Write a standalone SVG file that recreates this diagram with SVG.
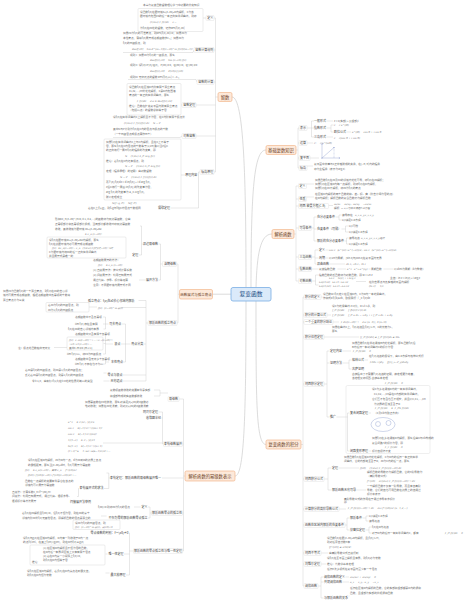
<svg xmlns="http://www.w3.org/2000/svg" width="474" height="602" viewBox="0 0 474 602">
<style>
text{font-family:"Noto Sans CJK SC","Noto Sans",sans-serif}
.b{font-size:2.7px;fill:#6a6a6a}
.l{font-size:3px;fill:#454545}
.f{font-family:"DejaVu Serif","Noto Sans CJK SC",serif;font-size:2.5px;fill:#666;font-style:italic}
.e{text-anchor:end}
.m{font-size:4.3px;fill:#6b3d1e;text-anchor:middle}
.mr{fill:#fde9da;stroke:#f0ad7e;stroke-width:0.6}
.c{font-size:5.8px;fill:#1d4f86;text-anchor:middle}
.cr{fill:#dbeafa;stroke:#79ade3;stroke-width:0.8}
.k{fill:none;stroke:#c6c6c6;stroke-width:0.4}
.km{fill:none;stroke:#cdcdcd;stroke-width:0.7}
.bx{fill:#fff;stroke:#d0d0d0;stroke-width:0.4}
.bn{fill:none;stroke:#d6d6d6;stroke-width:0.4}
.lb{fill:#fff;stroke:#d6d6d6;stroke-width:0.35}
.dg{fill:none;stroke:#8899cc;stroke-width:0.4}
</style>
<rect width="474" height="602" fill="#fff"/>
<g id="connectors">
<path class="km" d="M246,287.5 C246,180 244,97 232,97"/>
<path class="km" d="M251,287.5 C251,190 254,150 266,150"/>
<path class="km" d="M256,287.5 C257,255 260,234 272,234"/>
<path class="km" d="M231,294.2 L212.5,294.2"/>
<path class="km" d="M256,301 C256,400 256,444.5 266,444.5"/>
<path class="km" d="M246,301 C246,420 244,476 235,476"/>
<path class="k" d="M215.5,18 V172 M214,18 H215.5 M214,50 H215.5 M214,82 H215.5 M196,105 H215.5 M196,136 H215.5 M214,172 H215.5 M215.5,97 H218 M203,18 H206 M123,52.5 H193 L194,50 M128,79.5 H196 L197,82 M181,105 H182 M113,137.5 H180 L182,136 M181,175 H185 M197.5,175 H198.5 M198.5,172 V208 H170.5 M198.5,172 H200"/>
<path class="k" d="M178,264 V323 M176.5,264 H178 M176.5,323 H178 M178,294.2 H179.5 M162.5,264 H160.5 M160.5,244 V280 M158.5,244 H160.5 M158.5,280 H160.5 M141.5,226 V255 M140,226 H141.5 M141.5,244 H143 M138.5,255 H141.5 M139,280 H145.5 M146,300.5 V381 M146,323 H148 M138.5,300.5 H146 M121,307.5 H146 M143.5,344 H146 M122.5,375 H146 M122.5,381 H146 M125.5,324 V362 M121.5,324 H125.5 M121,344 H125.5 M123,362 H125.5 M125.5,344 H130.5 M105.5,317 V329 M103,317 H105.5 M103,324 H105.5 M103.5,329 H105.5 M105.5,324 H108.5 M105.5,334 V354 M103,334 H105.5 M103.5,343.5 H105.5 M103,354 H105.5 M105.5,344 H113 M105.5,359 V364 M103,359 H105.5 M103,364 H105.5 M105.5,362 H109 M103.5,373 H106.5 M103.5,381 H109.5 M54,347.5 H67 M89,307 H97"/>
<path class="k" d="M183.5,399 V551 M183.5,476 H185 M179,399 H183.5 M182.5,444 H183.5 M162,478 H183.5 M182.5,513 H183.5 M182.5,551 H183.5 M154,390 H160 V396 H154 M160,393 H168 M162.5,412 V444 M158.5,412 H162.5 M161.5,418 H162.5 M103,443 H162.5 M162.5,444 H163.5 M108.8,473 V488.5 H104 M108.8,478 H110 M106.5,473 H108.8 M77,496.5 H78.5 V488.5 H79 M150,507 V518 M150,513 H151.5 M148,507 H150 M148,518 H150 M134,507 H140.5 M101,516 H106.5 M129.5,533 V575 M129.5,551 H133.5 M129,533 H129.5 M124,554 H129.5 M126,575 H129.5 M105.5,554 H107.5 M105.5,573 H109.5"/>
<path class="k" d="M296,150 H298 M298,128 V168 M298,128 H299 M298,143 H299 M298,158 H299 M298,168 H299 M307,128 H311.5 M311.5,121 V137 M311.5,121 H314 M311.5,128 H314 M311.5,137 H314 M326.5,121 H333 M326.5,128 H331 M331,125 V132 M331,125 H333.5 M331,132 H333.5 M346.5,132 H351 M326.5,137 H333 M307,143 H313 M310,158 H319 M307,166 H313"/>
<path class="k" d="M294,234 H296 M296,186 V281 M296,186 H298.5 M296,199 H298.5 M296,206 H298.5 M296,228 H298.5 M296,257 H298.5 M296,269 H298.5 M296,281 H298.5 M306.5,184 H314 M306.5,197 H314 M328.5,205.5 H333 M311.5,228 H314 M314,217 V241 M314,217 H316.5 M314,229 H316.5 M314,241 H316.5 M335.5,217 H339 M339,215 V220 M339,215 H341.5 M339,220 H341.5 M341.5,229 H345.5 M345.5,226 V232 M345.5,226 H348.5 M345.5,232 H348.5 M344.5,241 H346.5 M346.5,238 V244 M346.5,238 H348.5 M346.5,244 H348.5 M311.5,257 H315 M315,250 V264 M315,250 H318.5 M315,258 H318.5 M315,264 H316.5 M325.5,250 H328.5 M325.5,258 H328.5 M329.5,264 H345 M311.5,269 H318.5 M337.5,269 H346 M368.5,269 H370.5 M383.5,269 H393.5 M311.5,281 H315.5 M315.5,275 V285 M315.5,275 H318.5 M315.5,285 H318.5 M356,281.5 H366"/>
<path class="k" d="M301,444.5 H303 M303,297 V586 M303,297 H304 M303,315 H304 M303,322 H304 M303,337 H304 M303,384 H304 M303,479 H304 M303,509 H304 M303,525 H304 M303,553 H304 M303,564 H304 M303,586 H304 M321,297 H322.5 M327,315 H331 M333,322 H339 M324,337 H359 M324,384 H327 M327,351 V417 M327,351 H329.5 M327,363 H329.5 M327,417 H329.5 M342.5,351 H351 M342.5,363 H349 M349,360 V369 M349,360 H351.5 M349,369 H351.5 M364.5,360 H368 M336.5,417 H347.5 M347.5,413 V451 M347.5,413 H349.5 M347.5,451 H349.5 M368.5,413 H371 M368.5,451 H371 M324,479 H328 M328,468 V490 M328,468 H331.5 M328,490 H331.5 M338.5,468 H359 M356.5,490 H366 M339,509 H346 M345,525 H347 M347,518 V530 M347,518 H349.5 M347,530 H349.5 M362.5,518 H366 M366,516 V521 M366,516 H368.5 M366,521 H368.5 M365.5,530 H369 M369,527 V533 M369,527 H371.5 M369,533 H371.5 M321,553 H328 M321,564 H326 M318,586 H321 M321,577 V598 M321,577 H323.5 M321,582 H323.5 M321,598 H323.5 M345.5,577 H349 M342.5,582 H349 M348.5,596 H349.5"/>
</g>
<g id="center">
<rect class="cr" x="231" y="287.5" width="40" height="13.5" rx="2"/>
<text class="c" x="251" y="296.3">复变函数</text>
</g>
<g id="node-liushu">
<rect class="mr" x="218" y="92.5" width="14" height="9" rx="1.5"/>
<text class="m" x="225" y="98.6">留数</text>
<text class="b" x="143" y="6">本章为复变函数留数理论学习中必要的补充知识</text>
<rect class="bx" x="138" y="8.5" width="65" height="23" rx="1"/>
<text class="b" x="140" y="13">设函数f(z)在圆环域0&lt;|z−z0|&lt;R内解析，C为该</text>
<text class="b" x="140" y="17">圆环域内包围z0的任一条正向简单闭曲线，则称</text>
<text class="f" x="150" y="22.5">(1/2πi)∮ f(z)dz = c₋₁</text>
<text class="b" x="140" y="28.5">为f(z)在z0处的留数，记作Res[f(z),z0]</text>
<rect class="lb" x="206" y="15.5" width="8" height="5" rx="0.8"/>
<text class="l e" x="213.2" y="19">定义</text>
<text class="b" x="123" y="34">如果z0为f(z)的可去奇点，则Res[f(z),z0]=0；如果z0为</text>
<text class="b" x="123" y="39">本性奇点，需将f(z)展开成洛朗级数求c₋₁；如果z0为</text>
<text class="b" x="123" y="44">f(z)的m级极点，则</text>
<text class="f" x="132" y="49.5">Res[f,z0] = lim d^(m−1)[(z−z0)^m f(z)]/(m−1)!</text>
<rect class="lb" x="194" y="47.5" width="20" height="5" rx="0.8"/>
<text class="l e" x="213.2" y="51">留数计算规则</text>
<text class="b" x="130" y="55.5">规则Ⅰ 如果z0为f(z)的一级极点，那么</text>
<text class="f" x="150" y="60.5">Res[f(z),z0] = lim (z−z0) f(z)</text>
<text class="b" x="130" y="66">规则Ⅱ 设f(z)=P(z)/Q(z)，P(z0)≠0，Q(z0)=0，Q′(z0)≠0</text>
<text class="f" x="150" y="72">Res[f(z),z0] = P(z0)/Q′(z0)</text>
<text class="b" x="130" y="77.5">规则Ⅲ 无穷远点的留数 Res[f(z),∞] = −c₋₁</text>
<rect class="lb" x="197" y="79.5" width="17" height="5" rx="0.8"/>
<text class="l e" x="213.2" y="83">留数的计算</text>
<rect class="bx" x="127" y="83.5" width="54" height="31.5" rx="1"/>
<text class="b" x="129" y="88">设函数f(z)在区域D内除有限个孤立奇点</text>
<text class="b" x="129" y="92">z1,z2,…,zn外处处解析，C是D内包围诸</text>
<text class="b" x="129" y="96">奇点的一条正向简单闭曲线，那么</text>
<text class="f" x="136" y="101.5">∮ f(z)dz = 2πi Σ Res[f(z),zk]</text>
<text class="b" x="129" y="107">推论：函数在扩充复平面内所有孤立奇点</text>
<text class="b" x="129" y="111">（包括∞点）的留数总和等于零</text>
<rect class="lb" x="182" y="102.5" width="14" height="5" rx="0.8"/>
<text class="l e" x="195.2" y="106">留数定理</text>
<text class="b" x="113" y="117.5">设f(z)在简单闭曲线C上解析且不为零，在C内除有限个极点外</text>
<text class="f" x="124" y="123.5">(1/2πi)∮ f′(z)/f(z) dz = N − P</text>
<text class="b" x="113" y="129.5">其中N与P分别为f(z)在C内的零点与极点的个数</text>
<text class="b" x="113" y="134.5">（一个m级零点或极点算作m个）</text>
<rect class="lb" x="182" y="133.5" width="14" height="5" rx="0.8"/>
<text class="l e" x="195.2" y="137">对数留数</text>
<rect class="bx" x="104" y="139" width="77" height="61" rx="1"/>
<text class="b" x="106" y="143">如果f(z)在简单闭曲线C上与C内解析，且在C上不等于</text>
<text class="b" x="106" y="147">零，那么f(z)在C内零点的个数等于(1/2π)乘以当z沿C</text>
<text class="b" x="106" y="151">的正向绕行一周时f(z)的辐角的改变量，即</text>
<text class="f" x="125" y="156.5">N = (1/2π) Δ_C Arg f(z)</text>
<text class="b" x="106" y="162">推论：若f(z)在C内还有极点，则</text>
<text class="f" x="125" y="167">N − P = (1/2π) Δ_C Arg f(z)</text>
<text class="b" x="106" y="172">定理（辐角原理）的证明：由对数留数</text>
<text class="f" x="120" y="177.5">N − P = (1/2πi)∮ f′(z)/f(z) dz</text>
<text class="b" x="106" y="183">而 f′(z)/f(z)dz = d ln|f(z)| + i d arg f(z)，</text>
<text class="b" x="106" y="188">z沿C绕行一周后 ln|f(z)| 的改变量为零，</text>
<text class="b" x="106" y="193">arg f(z) 的改变量为 Δ_C Arg f(z)，</text>
<text class="b" x="106" y="197.5">所以定理成立</text>
<text class="l e" x="197.2" y="176">原理内容</text>
<rect class="lb" x="200" y="169.5" width="14" height="5" rx="0.8"/>
<text class="l e" x="213.2" y="173">辐角原理</text>
<text class="f" x="112" y="203.5">N(f+g, C) = N(f, C)</text>
<text class="b" x="88" y="209">若在C上|f|&gt;|g|，则f+g与f在C内零点个数相同</text>
<text class="l e" x="170" y="209">儒歇定理</text>
</g>
<g id="node-zhanshi">
<rect class="mr" x="179.5" y="289.5" width="33" height="9.5" rx="1.5"/>
<text class="m" x="196" y="295.5" style="font-size:3.5px">函数展式与孤立奇点</text>
<rect class="lb" x="162.5" y="261.5" width="14" height="5" rx="0.8"/>
<text class="l e" x="176" y="265">洛朗级数</text>
<text class="l e" x="158" y="245">双边幂级数</text>
<text class="b" x="55" y="220">形如Σc_n(z−z0)ⁿ (n=0,±1,±2,…)的级数称为双边幂级数，它由</text>
<text class="b" x="55" y="225">正幂项部分和负幂项部分组成，当两部分都收敛时称双边幂级数</text>
<text class="b" x="55" y="230">收敛，其收敛域为圆环域 R1&lt;|z−z0|&lt;R2</text>
<text class="f" x="85" y="234.5">Σ c_n (z−z0)ⁿ</text>
<rect class="bx" x="47" y="237" width="79" height="21" rx="1"/>
<text class="b" x="49" y="241">设f(z)在圆环域R1&lt;|z−z0|&lt;R2内解析，那么</text>
<text class="b" x="49" y="245">f(z)在此圆环域内必可展开成洛朗级数</text>
<text class="f" x="52" y="249">f(z)=Σc_n(z−z0)ⁿ，c_n=(1/2πi)∮f(ζ)/(ζ−z0)ⁿ⁺¹dζ</text>
<text class="b" x="49" y="253">C为圆环域内绕z0的任一正向简单闭曲线</text>
<text class="b" x="49" y="256.5">并且展开式是唯一的</text>
<text class="l e" x="138.2" y="256">定理</text>
<text class="b" x="93" y="260.5">洛朗级数展开的方法：</text>
<text class="f" x="98" y="265.5">f(z) = Σ c_n (z−z0)ⁿ</text>
<text class="b" x="93" y="271">(1) 直接展开法：按公式计算系数</text>
<text class="b" x="93" y="276">(2) 间接展开法：利用已知展开式</text>
<text class="b" x="93" y="281">通过代换、求导、积分等运算</text>
<text class="b" x="93" y="286">注意：不同圆环域内展开式不同</text>
<text class="l e" x="158" y="281">展开方法</text>
<rect class="lb" x="148" y="320.5" width="29" height="5" rx="0.8"/>
<text class="l e" x="176" y="324">解析函数的孤立奇点</text>
<text class="b" x="3" y="291.5">如果z0为函数f(z)的一个孤立奇点，则f(z)在z0的去心邻</text>
<text class="b" x="3" y="296">域内可展开成洛朗级数，根据洛朗级数中负幂项的个数将</text>
<text class="b" x="3" y="300.5">孤立奇点分为三类</text>
<text class="l" x="88" y="301.5">孤立奇点：f(z)在z0去心邻域内解析</text>
<rect class="bx" x="46" y="302.5" width="43" height="9.5" rx="1"/>
<text class="b" x="48" y="306">若z0为f(z)的m级零点，则</text>
<text class="b" x="48" y="310.5">z0为1/f(z)的m级极点</text>
<text class="f" x="98" y="308.5">f(z)=(z−z0)^m φ(z)</text>
<text class="l e" x="143.2" y="345">奇点分类</text>
<text class="l e" x="121.2" y="325">可去奇点</text>
<text class="b" x="75" y="318">洛朗级数中不含负幂项</text>
<text class="b" x="75" y="325">lim f(z) 存在且有限</text>
<text class="b" x="68" y="330">f(z)在z0的去心邻域内有界</text>
<text class="l e" x="120.5" y="345">极点</text>
<text class="b" x="75" y="335">洛朗级数中只含有限个负幂项</text>
<rect class="bx" x="67" y="337" width="36" height="13" rx="1"/>
<text class="f" x="69" y="341">f(z)=c₋m(z−z0)⁻ᵐ+…+c₋₁(z−z0)⁻¹</text>
<text class="f" x="69" y="344.8">+c0+c1(z−z0)+…</text>
<text class="b" x="69" y="348.5">其中c₋m≠0 (m≥1)</text>
<text class="b" x="67" y="355">lim f(z)=∞，称z0为m级极点</text>
<text class="b" x="18" y="348.5">注：极点处函数趋向无穷大</text>
<text class="l e" x="123" y="363">本性奇点</text>
<text class="b" x="75" y="360">洛朗级数中含无穷多个负幂项</text>
<text class="b" x="75" y="365">lim f(z) 不存在也不为∞</text>
<text class="l e" x="122.5" y="376">零点与极点</text>
<text class="b" x="25" y="371">若z0是f(z)的m级极点，则z0是1/f(z)的m级零点；</text>
<text class="b" x="25" y="375.5">反之若z0是f(z)的m级零点，则是1/f(z)的m级极点</text>
<text class="l e" x="122.5" y="382">无穷远点</text>
<text class="b" x="32" y="382">令t=1/z，由φ(t)=f(1/t)在t=0处的性质判断∞的类型</text>
</g>
<g id="node-mijishu">
<rect class="mr" x="185" y="471" width="50" height="10" rx="1.5"/>
<text class="m" x="210" y="477.6">解析函数的幂级数表示</text>
<rect class="lb" x="168" y="396.5" width="11" height="5" rx="0.8"/>
<text class="l e" x="178" y="400">幂级数</text>
<text class="b" x="110" y="391">复数项级数收敛的充要条件是实部</text>
<text class="b" x="110" y="396.5">和虚部构成的实级数都收敛</text>
<text class="b" x="85" y="403">如果幂级数在z0处收敛，那么对满足|z|&lt;|z0|的z级数必</text>
<text class="b" x="85" y="407">绝对收敛；如果在z0处发散，则对|z|&gt;|z0|的z级数发散</text>
<text class="l e" x="158" y="413">阿贝尔定理</text>
<text class="l e" x="161" y="419">收敛圆半径</text>
<text class="f" x="68" y="423">e^z = Σ zⁿ/n!，|z|&lt;∞</text>
<text class="f" x="68" y="429">sin z = Σ(−1)ⁿz²ⁿ⁺¹/(2n+1)!</text>
<text class="f" x="68" y="435">cos z = Σ(−1)ⁿz²ⁿ/(2n)!</text>
<text class="f" x="68" y="441">1/(1−z) = Σ zⁿ，|z|&lt;1</text>
<text class="f" x="68" y="446.5">ln(1+z) = Σ(−1)ⁿzⁿ⁺¹/(n+1)</text>
<text class="f" x="68" y="452">(1+z)^α = 1+αz+α(α−1)z²/2!+…</text>
<rect class="lb" x="163.5" y="441.5" width="19" height="5" rx="0.8"/>
<text class="l e" x="182" y="445">泰勒级数展开</text>
<text class="b" x="28" y="461">设f(z)在区域D内解析，z0为D内一点，d为z0到D的边界上各点</text>
<text class="b" x="28" y="466">的最短距离，那么当|z−z0|&lt;d时，f(z)可展开为幂级数</text>
<text class="f" x="25" y="471">f(z) = Σ c_n(z−z0)ⁿ，其中 c_n = f⁽ⁿ⁾(z0)/n!</text>
<text class="f" x="25" y="476">= f(z0)+f′(z0)(z−z0)+f″(z0)(z−z0)²/2!+…</text>
<text class="b" x="25" y="481.5">函数在一点解析的充要条件是它在该点的</text>
<text class="b" x="25" y="486">邻域内可以展开为幂级数</text>
<text class="l" x="110" y="479">泰勒定理：解析函数的幂级数展开唯一</text>
<text class="l e" x="103.5" y="489">泰勒展开式的求法</text>
<text class="b" x="12" y="492.5">直接法：计算系数c_n=f⁽ⁿ⁾(z0)/n!</text>
<text class="b" x="12" y="497">间接法：利用已知展开式，通过代换、逐项求导、</text>
<text class="b" x="12" y="501.5">逐项积分等方法展开</text>
<text class="l" x="70" y="502.5">间接展开法举例</text>
<rect class="lb" x="151.5" y="510.5" width="31" height="5" rx="0.8"/>
<text class="l e" x="182" y="514">解析函数零点的孤立性</text>
<text class="l e" x="147.5" y="508">定义</text>
<text class="b" x="98" y="508">f(z0)=0 则称z0为f(z)的零点</text>
<text class="l e" x="147.5" y="519">不恒为零的解析函数零点孤立</text>
<text class="b" x="22" y="513.5">若f(z)在z0解析且f(z0)=0，但f(z)不恒为零，则在z0的某个</text>
<text class="b" x="22" y="518.5">邻域内除z0外f(z)无其他零点，即解析函数的零点是孤立的</text>
<rect class="lb" x="133.5" y="548.5" width="49" height="5" rx="0.8"/>
<text class="l e" x="182" y="552">解析函数的零点孤立性与唯一性定理</text>
<rect class="bx" x="73" y="520" width="47" height="9.5" rx="1"/>
<text class="b" x="75" y="523.5">设z0为f(z)的m级零点，则</text>
<text class="f" x="75" y="527.5">f(z)=(z−z0)^m φ(z)，φ(z0)≠0</text>
<text class="l e" x="128.5" y="534">零点级数的判别：f⁽ᵐ⁾(z0)≠0</text>
<text class="b" x="23" y="538.5">设f(z)与g(z)在区域D内解析，D内有一列收敛于D内一点</text>
<text class="b" x="23" y="543">的点列{zn}，在其上f(zn)=g(zn)，则在D内f(z)≡g(z)</text>
<rect class="bx" x="30" y="545" width="75" height="20" rx="1"/>
<text class="b" x="43" y="549">(1) 在区域D内解析且不恒为零的函数，</text>
<text class="b" x="43" y="553">在D内任一有界闭区域上只有有限个零点</text>
<text class="b" x="43" y="557">(2) 若在D内某一小段弧上f(z)=0，</text>
<text class="b" x="43" y="561">则f(z)在D内恒等于零</text>
<text class="b" x="32" y="563">推论:</text>
<text class="l e" x="123.5" y="555">唯一性定理</text>
<text class="b" x="27" y="571.5">设f(z)在区域D内解析，若|f(z)|在D内某点达到最大值，</text>
<text class="b" x="27" y="576">则f(z)在D内恒为常数</text>
<text class="l e" x="125.5" y="576">最大模原理</text>
</g>
<g id="node-jichu">
<rect class="mr" x="266" y="145.5" width="30" height="9" rx="1.5"/>
<text class="m" x="281" y="151.5">基础复数知识</text>
<rect class="lb" x="299" y="125.5" width="8" height="5" rx="0.8"/>
<text class="l" x="300" y="129">表示</text>
<text class="l" x="314" y="122">一般形式</text>
<text class="b" x="334" y="122">z = x(实部) + y(虚部)i</text>
<text class="l" x="314" y="129">指数形式</text>
<text class="f" x="334" y="126">z = r e^(iθ)</text>
<text class="l" x="334" y="133">欧拉公式</text>
<text class="f" x="352" y="133">e^(iθ) = cos θ + i sin θ</text>
<text class="l" x="314" y="138">三角形式</text>
<text class="f" x="334" y="138.5">z = r(cos θ + i sin θ)</text>
<rect class="lb" x="299" y="140.5" width="8" height="5" rx="0.8"/>
<text class="l" x="300" y="144">运算</text>
<text class="f" x="314" y="144">zⁿ = rⁿe^(inθ)</text>
<rect class="lb" x="299" y="155.5" width="11" height="5" rx="0.8"/>
<text class="l" x="300" y="159">复平面</text>
<path class="dg" d="M321,158 H340 M338.8,157.3 L340,158 L338.8,158.7 M322,159 V143.5 M321.3,144.7 L322,143.5 L322.7,144.7 M322,158 L334,147.5"/>
<path class="dg" d="M334,147.5 V158" stroke-dasharray="0.8,0.6"/>
<circle cx="334" cy="147.5" r="0.6" fill="#8899cc"/>
<rect class="lb" x="299" y="165.5" width="8" height="5" rx="0.8"/>
<text class="l" x="300" y="169">辐角</text>
<text class="b" x="314" y="164.5">复平面中向量与x正半轴所成的夹角，在(−π, π]内的辐角</text>
<text class="b" x="314" y="169.5">称为主辐角（表示为arg z）</text>
</g>
<g id="node-jiexi">
<rect class="mr" x="272" y="229.5" width="22" height="9" rx="1.5"/>
<text class="m" x="283" y="235.5">解析函数</text>
<rect class="lb" x="298.5" y="183.5" width="8" height="5" rx="0.8"/>
<text class="l" x="299.5" y="187">定义</text>
<text class="b" x="315" y="180.5">如果函数f(z)在z0及z0的邻域内处处可导，称f(z)在z0解析；</text>
<text class="b" x="315" y="184.5">如果f(z)在区域D内每一点解析，则称f(z)在D内解析，</text>
<text class="b" x="315" y="188.5">如果f(z)在z0不解析，称z0为f(z)的奇点</text>
<rect class="lb" x="298.5" y="196.5" width="8" height="5" rx="0.8"/>
<text class="l" x="299.5" y="200">性质</text>
<text class="b" x="315" y="195">在区域D内解析的两个函数的和、差、积、商（除去分母为零的点）</text>
<text class="b" x="315" y="199">在D内解析；解析函数的复合函数仍为解析函数</text>
<rect class="lb" x="298.5" y="203.5" width="30" height="5" rx="0.8"/>
<text class="l" x="299.5" y="207">柯西-黎曼方程(C-R)</text>
<text class="f" x="334" y="204.5">∂u/∂x = ∂v/∂y，∂u/∂y = −∂v/∂x</text>
<text class="b" x="334" y="209">解析</text>
<text class="f" x="341" y="209">⇔ u,v可微且满足C-R方程</text>
<rect class="lb" x="298.5" y="225.5" width="13" height="5" rx="0.8"/>
<text class="l" x="299.5" y="229">可导条件</text>
<text class="l" x="317" y="218">充分必要条件</text>
<text class="b" x="342" y="216">偏导存在</text>
<text class="f" x="355" y="216">u_x,u_y,v_x,v_y</text>
<text class="b" x="342" y="221">u,v满足C-R方程</text>
<text class="l" x="317" y="230">充要条件（可微）</text>
<text class="b" x="349" y="227">u,v可微</text>
<text class="b" x="349" y="233">u,v满足C-R方程</text>
<text class="l" x="317" y="242">解析的充分必要条件</text>
<text class="b" x="349" y="239">偏导连续</text>
<text class="f" x="361" y="239">u_x,u_y,v_x,v_y连续</text>
<text class="b" x="349" y="245">u,v满足C-R方程</text>
<rect class="lb" x="298.5" y="254.5" width="13" height="5" rx="0.8"/>
<text class="l" x="299.5" y="258">三角函数</text>
<text class="l" x="319" y="251">定义</text>
<text class="f" x="329" y="251">cos z=(e^(iz)+e^(−iz))/2，sin z=(e^(iz)−e^(−iz))/2i</text>
<text class="l" x="319" y="259">周期</text>
<text class="b" x="329" y="259">以2π为周期，|sin z|与|cos z|在复平面内无界</text>
<text class="l" x="317" y="265">双曲函数</text>
<text class="f" x="346" y="265">sh z，ch z，th z</text>
<rect class="lb" x="298.5" y="266.5" width="13" height="5" rx="0.8"/>
<text class="l" x="299.5" y="270">指数函数</text>
<text class="b" x="319" y="270">复变指数函数</text>
<text class="f" x="347" y="270">e^z=e^x·e^(iy)</text>
<text class="b" x="371" y="270">周期函数</text>
<text class="b" x="394" y="270">以2kπi为周期（k为整数）</text>
<rect class="lb" x="298.5" y="278.5" width="13" height="5" rx="0.8"/>
<text class="l" x="299.5" y="282">对数函数</text>
<text class="b" x="319" y="275.5">指数函数的反函数称为对数函数，即 w = Ln z</text>
<text class="f" x="329" y="278.7">Ln z = ln|z| + i Arg z</text>
<text class="b" x="390" y="278.7">主值：ln z = ln|z| + i arg z</text>
<text class="f" x="319" y="282.5">Ln(z1z2)=Ln z1+Ln z2</text>
<text class="f" x="319" y="286.5">Ln(z1/z2)=Ln z1−Ln z2</text>
<text class="b" x="369" y="282.5">在除去原点与负实轴的平面内解析</text>
<text class="f" x="369" y="286.5">(ln z)′ = 1/z</text>
</g>
<g id="node-jifen">
<rect class="mr" x="266" y="440" width="35" height="9" rx="1.5"/>
<text class="m" x="283.5" y="446">复变函数的积分</text>
<rect class="lb" x="304" y="294.5" width="17" height="5" rx="0.8"/>
<text class="l" x="305" y="298">积分的定义</text>
<text class="b" x="323" y="294.5">设函数w=f(z)定义在区域D内，C为D内一条光滑曲线，</text>
<text class="b" x="323" y="299">作和式Σf(ζk)Δzk，取极限得 ∫_C f(z)dz</text>
<rect class="lb" x="304" y="312.5" width="23" height="5" rx="0.8"/>
<text class="l" x="305" y="316">积分的计算公式</text>
<text class="b" x="332" y="306.5">设C为光滑曲线 z=z(t)，α≤t≤β，则</text>
<text class="f" x="332" y="310.5">∫_C f(z)dz = ∫ f[z(t)] z′(t) dt</text>
<text class="f" x="332" y="315.5">∫_C f(z)dz = ∫_C u dx − v dy + i ∫_C v dx + u dy</text>
<rect class="lb" x="304" y="319.5" width="29" height="5" rx="0.8"/>
<text class="l" x="305" y="323">一个重要的积分结论</text>
<text class="f" x="340" y="322.8">∮ dz/(z−z0)ⁿ⁺¹ = 2πi (n=0)；0 (n≠0)</text>
<rect class="lb" x="304" y="334.5" width="20" height="5" rx="0.8"/>
<text class="l" x="305" y="338">积分估值定理</text>
<text class="b" x="332" y="327.5">如果在曲线C上，f(z)连续且|f(z)|≤M，C的长度为L，</text>
<text class="b" x="332" y="332">那么</text>
<text class="f" x="360" y="337.8">|∫_C f(z)dz| ≤ ∫_C |f(z)|ds ≤ ML</text>
<rect class="lb" x="304" y="381.5" width="20" height="5" rx="0.8"/>
<text class="l" x="305" y="385">柯西积分定理</text>
<text class="l" x="330" y="352">定理内容</text>
<text class="b" x="352" y="343.5">如果函数f(z)在单连通域B内处处解析，那么函数f(z)沿</text>
<text class="b" x="352" y="347.5">B内任何一条封闭曲线C的积分为零</text>
<text class="f" x="352" y="352">∮_C f(z)dz = 0</text>
<text class="l" x="330" y="364">证明方法</text>
<text class="l" x="352" y="361">格林公式</text>
<text class="b" x="369" y="357">在f′(z)连续的假设下，由C-R方程与格林公式得</text>
<text class="f" x="369" y="362.5">∮Pdx+Qdy = ∬(Q_x−P_y)dxdy</text>
<text class="l" x="352" y="370">古萨证明</text>
<text class="b" x="352" y="374.5">古萨给出了不需要f′(z)连续的证明，使定理更为完善，</text>
<text class="b" x="352" y="378.5">该定理又称柯西-古萨基本定理</text>
<text class="f" x="384" y="383.5">∮_C f(z)dz = 0</text>
<rect class="bn" x="346" y="385.5" width="84" height="68" rx="1.5"/>
<text class="l" x="330" y="418">推广</text>
<text class="l" x="350" y="414">复合闭路定理</text>
<text class="b" x="372" y="390">设C为多连通域D内的一条简单闭曲线，</text>
<text class="b" x="374" y="395">C1,C2,…,Cn是在C内部的简单闭曲线，</text>
<text class="b" x="372" y="400">它们互不包含也互不相交，并且以C,C1,…,Cn</text>
<text class="b" x="374" y="404.5">为边界的区域全含于D</text>
<text class="f" x="374" y="409">∮_C f(z)dz = Σ ∮_Ck f(z)dz</text>
<text class="b" x="374" y="414">（C及Ck均取正方向）</text>
<ellipse class="dg" cx="383" cy="424.5" rx="12" ry="7"/>
<circle class="dg" cx="378" cy="424" r="2.5"/>
<circle class="dg" cx="388.5" cy="423" r="2.5"/>
<text class="b" x="372" y="439">如果f(z)在多连通域D内解析，那么沿由C与Ck构成的</text>
<text class="b" x="372" y="443.5">复合闭路Γ的积分为零，即</text>
<text class="f" x="384" y="448">∮_Γ f(z)dz = 0</text>
<text class="l" x="350" y="452">闭路变形原理</text>
<text class="b" x="372" y="452">积分值保持不变</text>
<rect class="lb" x="304" y="476.5" width="20" height="5" rx="0.8"/>
<text class="l" x="305" y="480">柯西积分公式</text>
<text class="b" x="344" y="457.5">如果函数f(z)在区域D内处处解析，C为D内的任何一条正向简单</text>
<text class="b" x="344" y="462">闭曲线，它的内部完全含于D，z0为C内的任一点，那么</text>
<text class="l" x="332" y="469">定理</text>
<text class="f" x="360" y="468.8">f(z0) = (1/2πi)∮_C f(z)/(z−z0) dz</text>
<text class="b" x="367" y="472.5">解析函数的导数仍为解析函数，它的n阶导数为</text>
<text class="b" x="367" y="477">（高阶导数公式）</text>
<text class="f" x="367" y="482">f⁽ⁿ⁾(z0) = n!/(2πi)∮_C f(z)/(z−z0)ⁿ⁺¹ dz</text>
<text class="l" x="332" y="491">解析函数无穷可导</text>
<text class="b" x="367" y="487">一个解析函数不仅有一阶导数，而且有各高阶</text>
<text class="b" x="367" y="491">导数，它们的值也可用函数在边界上的值通过</text>
<text class="b" x="367" y="495">积分来表示</text>
<text class="b" x="344" y="499.5">高阶导数公式的作用在于通过求导来求积分</text>
<rect class="lb" x="304" y="506.5" width="35" height="5" rx="0.8"/>
<text class="l" x="305" y="510">计算积分的高阶导数公式</text>
<text class="b" x="344" y="503">即</text>
<text class="f" x="347" y="508.8">∮_C f(z)/(z−z0)ⁿ⁺¹ dz = 2πi f⁽ⁿ⁾(z0)/n!  (n=1,2,…)</text>
<rect class="lb" x="304" y="522.5" width="41" height="5" rx="0.8"/>
<text class="l" x="305" y="526">函数在区域内解析的充要条件</text>
<text class="l" x="350" y="519">解析条件</text>
<text class="b" x="369" y="517">u,v满足C-R方程</text>
<text class="b" x="369" y="522">偏导连续</text>
<text class="l" x="350" y="531">莫雷拉定理</text>
<text class="b" x="372" y="528">f(z)在D内连续</text>
<text class="b" x="372" y="534">对于D内的任何一条简单闭曲线C，都有</text>
<text class="f" x="444" y="533.8">∮_C f(z)dz = 0</text>
<rect class="lb" x="304" y="550.5" width="17" height="5" rx="0.8"/>
<text class="l" x="305" y="554">柯西不等式</text>
<text class="b" x="327" y="538.5">设函数f(z)在圆|z−z0|&lt;R内解析，且|f(z)|≤M，</text>
<text class="b" x="327" y="543">则对任意自然数n有</text>
<text class="f" x="329" y="548">|f⁽ⁿ⁾(z0)| ≤ n!M/Rⁿ</text>
<text class="b" x="329" y="553.5">由高阶导数公式直接得到</text>
<rect class="lb" x="304" y="561.5" width="17" height="5" rx="0.8"/>
<text class="l" x="305" y="565">刘维尔定理</text>
<text class="b" x="327" y="559">设f(z)在全平面上解析且有界，则f(z)必为常数</text>
<text class="b" x="327" y="564.5">推论：代数学基本定理</text>
<text class="b" x="327" y="570">任何n次多项式在复平面内至少有一个零点</text>
<rect class="lb" x="304" y="583.5" width="14" height="5" rx="0.8"/>
<text class="l" x="305" y="587">调和函数</text>
<text class="l" x="324" y="578">调和函数的定义</text>
<text class="f" x="350" y="577.8">∂²u/∂x² + ∂²u/∂y² = 0</text>
<text class="l" x="324" y="583">共轭调和函数</text>
<text class="f" x="350" y="582.8">u_x = v_y，u_y = −v_x</text>
<text class="b" x="350" y="589">任何在区域D内解析的函数，它的实部和虚部都是D内的调和</text>
<text class="b" x="350" y="593.5">函数，且虚部为实部的共轭调和函数</text>
<text class="l" x="324" y="599">与解析函数的关系</text>
</g>
</svg>
